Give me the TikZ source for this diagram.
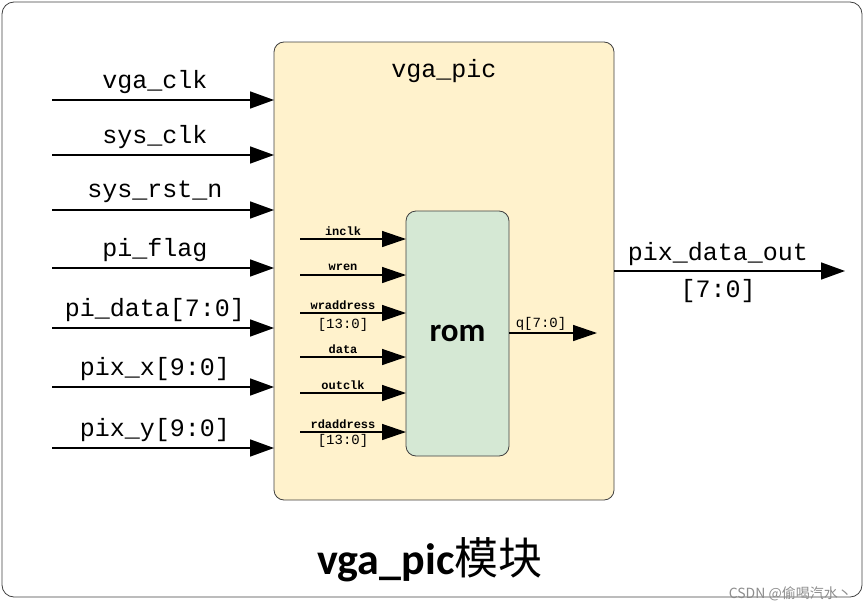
\documentclass[tikz,border=0pt]{standalone}
\usepackage{fontspec}
\setmainfont{Liberation Mono}
\newfontfamily\romfont{Carlito}
\newfontfamily\cjk{Noto Sans CJK SC}
\usetikzlibrary{arrows.meta}

\begin{document}
\begin{tikzpicture}[x=1pt, y=-1pt,
        sig/.style={line width=1.6pt, -{Triangle[length=24pt, width=17pt]}},
        subsig/.style={line width=1.4pt, -{Triangle[length=24pt, width=16pt]}},
        siglabel/.style={font=\fontsize{25}{25}\selectfont, inner sep=0pt},
        sublabel/.style={font=\fontsize{12}{12}\selectfont\bfseries, inner sep=0pt},
        box/.style={draw=black!75, rounded corners=10pt, line width=0.8pt}
    ]
    \useasboundingbox (0,0) rectangle (864,613);

    % ---------- frame ----------
    \draw[black!75, rounded corners=12pt, line width=0.8pt] (2,2) rectangle (862,597);

    % ---------- vga_pic ----------
    \node[box, fill={rgb,255:red,255;green,242;blue,204}, minimum width=340pt, minimum height=458pt] (pic) at (444,271) {};
    \node[siglabel] (title) at (444,71) {vga\_pic};

    % ---------- rom ----------
    \node[box, fill={rgb,255:red,213;green,232;blue,212}, minimum width=103pt, minimum height=245pt] (rom) at (457.5,333.5) {};
    \node[font=\romfont\bfseries\fontsize{33}{33}\selectfont] at (rom) {rom};

    % ---------- inputs ----------
    \foreach \name/\y [count=\i] in {vga\_clk/100, sys\_clk/155, sys\_rst\_n/210, pi\_flag/268,
                                     pi\_data[7:0]/328, pix\_x[9:0]/387, pix\_y[9:0]/448} {
        \coordinate (in\i) at (52,\y);
        \coordinate (pin\i) at (274,\y);
        \draw[sig] (in\i) -- (pin\i);
        \node[siglabel] at (155,\y-18) {\name};
    }

    % ---------- rom inputs ----------
    \foreach \name/\y [count=\i] in {inclk/239, wren/275, wraddress/313, data/357, outclk/393, rdaddress/432} {
        \coordinate (rin\i) at (300,\y);
        \coordinate (rpin\i) at (406,\y);
        \draw[subsig] (rin\i) -- (rpin\i);
        \node[sublabel] at (343,\y-8) {\name};
    }
    \node[font=\fontsize{14}{14}\selectfont, inner sep=0pt] at (343,325) {[13:0]};
    \node[font=\fontsize{14}{14}\selectfont, inner sep=0pt] at (343,441) {[13:0]};

    % ---------- outputs ----------
    \coordinate (qout) at (597,333);
    \draw[subsig] (rom.east |- qout) -- (qout);
    \node[font=\fontsize{14}{14}\selectfont, inner sep=0pt] at (541,324) {q[7:0]};

    \coordinate (pout) at (845,271);
    \draw[sig] (pic.east |- pout) -- (pout);
    \node[siglabel] at (718,254) {pix\_data\_out};
    \node[siglabel] at (718,291) {[7:0]};

    % ---------- caption ----------
    \node[font=\fontsize{44}{44}\selectfont] (cap) at (430,560) {{\romfont\bfseries vga\_pic}{\cjk 模块}};
    \node[font=\cjk\fontsize{14}{14}\selectfont, text=black!45, anchor=east, inner sep=0pt] at (852,594) {CSDN @偷喝汽水丶};
\end{tikzpicture}
\end{document}
